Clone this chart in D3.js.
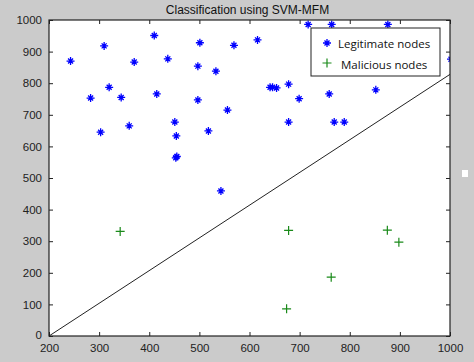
<!DOCTYPE html>
<html>
<head>
<meta charset="utf-8">
<script src="https://d3js.org/d3.v7.min.js"></script>
<style>
  body { margin: 0; background: #cbcbcb; }
  svg { display: block; }
</style>
</head>
<body>
<svg></svg>
<script>
// Legitimate nodes (x, y)
const legitX = [243, 310, 410, 501, 569, 616, 370, 437, 497, 533, 320, 283, 344, 415, 497, 556, 641,
  303, 360, 451, 454, 518, 453, 455, 543, 646, 654, 678, 699, 759, 852, 678, 769, 789, 717, 764, 876, 1002];
const legitY = [870, 918, 951, 928, 920, 937, 867, 877, 854, 838, 787, 753, 755, 766, 747, 715, 787,
  645, 665, 677, 633, 649, 564, 568, 459, 787, 785, 797, 751, 766, 779, 677, 677, 677, 986, 986, 986, 876];
// Malicious nodes (x, y)
const malX = [342, 678, 875, 898, 763, 674];
const malY = [331, 334, 335, 297, 186, 86];
// Separating line end points
const lineX = [200, 1000];
const lineY = [0, 828];
const xTicks = d3.range(200, 1001, 100);
const yTicks = d3.range(0, 1001, 100);

function chart() {
  // Set Size
  const width = 474;
  const height = 362;
  const margin = { left: 49, right: 24, top: 20, bottom: 26 };
  const w = width - margin.left - margin.right;
  const h = height - margin.top - margin.bottom;

  const svg = d3.select('svg')
    .attr('width', width)
    .attr('height', height);

  const x = d3.scaleLinear().domain([200, 1000]).range([0, w]);
  const y = d3.scaleLinear().domain([0, 1000]).range([h, 0]);

  const g = svg.append('g')
    .attr('transform', `translate(${margin.left}, ${margin.top})`);

  // White plot area
  g.append('rect').attr('width', w).attr('height', h).attr('fill', '#fff');

  // Clip marks to axes box
  svg.append('clipPath').attr('id', 'clip')
    .append('rect').attr('width', w).attr('height', h);
  const plot = g.append('g').attr('clip-path', 'url(#clip)');

  // Decision line
  plot.append('line')
    .attr('x1', x(lineX[0])).attr('y1', y(lineY[0]))
    .attr('x2', x(lineX[1])).attr('y2', y(lineY[1]))
    .attr('stroke', '#222').attr('stroke-width', 1);

  // Star marker (plus + small cross)
  function star(sel, cx, cy) {
    const p = `M${cx - 4},${cy}H${cx + 4}M${cx},${cy - 4}V${cy + 4}` +
      `M${cx - 2.5},${cy - 2.5}L${cx + 2.5},${cy + 2.5}M${cx - 2.5},${cy + 2.5}L${cx + 2.5},${cy - 2.5}`;
    sel.append('path').attr('d', p).attr('stroke', '#0000ff').attr('stroke-width', 1.3).attr('fill', 'none');
  }
  function plus(sel, cx, cy) {
    const p = `M${cx - 4.5},${cy}H${cx + 4.5}M${cx},${cy - 4.5}V${cy + 4.5}`;
    sel.append('path').attr('d', p).attr('stroke', '#1a8a1a').attr('stroke-width', 1.2).attr('fill', 'none');
  }

  legitX.forEach((d, i) => star(plot, x(d), y(legitY[i])));
  malX.forEach((d, i) => plus(plot, x(d), y(malY[i])));

  // Axes: ticks inside on all four sides
  const font = '"Liberation Sans", Arial, sans-serif';
  const fmt = d3.format('d');
  g.append('g').attr('transform', `translate(0, ${h})`)
    .call(d3.axisBottom(x).tickValues(xTicks).tickFormat(fmt).tickSizeInner(-4).tickSizeOuter(0).tickPadding(8));
  const left = g.append('g')
    .call(d3.axisLeft(y).tickValues(yTicks).tickFormat(fmt).tickSizeInner(-4).tickSizeOuter(0).tickPadding(7));
  g.append('g')
    .call(d3.axisTop(x).tickValues(xTicks).tickSizeInner(-4).tickSizeOuter(0).tickFormat(''));
  g.append('g').attr('transform', `translate(${w}, 0)`)
    .call(d3.axisRight(y).tickValues(yTicks).tickSizeInner(-4).tickSizeOuter(0).tickFormat(''));

  g.selectAll('.domain').remove();
  g.selectAll('.tick line').attr('stroke', '#222');
  g.selectAll('.tick text').attr('fill', '#222').style('font-family', font).style('font-size', '11.5px');
  // MATLAB shifts the "0" label up a bit
  left.selectAll('.tick text').filter(d => d === 0).attr('dy', '0.2em');

  // Axes box
  g.append('rect').attr('width', w).attr('height', h)
    .attr('fill', 'none').attr('stroke', '#222').attr('stroke-width', 1.2);

  // Title
  svg.append('text')
    .attr('x', margin.left + w / 2 - 2).attr('y', 14)
    .attr('text-anchor', 'middle')
    .style('font-family', font).style('font-size', '12px').attr('fill', '#111')
    .text('Classification using SVM-MFM');

  // Legend
  const lg = svg.append('g').attr('transform', 'translate(311, 28)');
  lg.append('rect').attr('width', 129).attr('height', 48)
    .attr('fill', '#fff').attr('stroke', '#222').attr('stroke-width', 1);
  star(lg, 16, 15);
  plus(lg, 16, 35);
  lg.append('text').attr('x', 27).attr('y', 20)
    .style('font-family', '"Open Sans", sans-serif').style('font-size', '11.5px').attr('fill', '#111')
    .text('Legitimate nodes');
  lg.append('text').attr('x', 30).attr('y', 41)
    .style('font-family', '"Open Sans", sans-serif').style('font-size', '11.5px').attr('fill', '#111')
    .text('Malicious nodes');

  // Small white figure widget at right edge
  svg.append('rect').attr('x', 462).attr('y', 170).attr('width', 6).attr('height', 7).attr('fill', '#fff');
}

chart();
</script>
</body>
</html>
